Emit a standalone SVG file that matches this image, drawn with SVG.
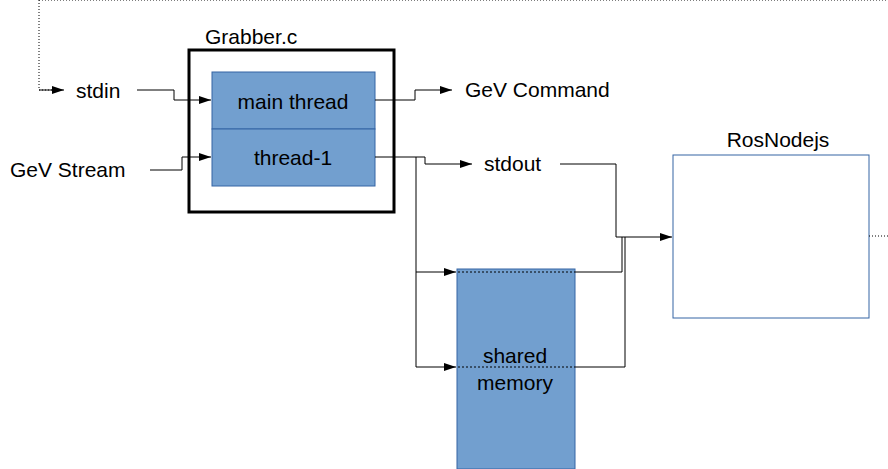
<svg xmlns="http://www.w3.org/2000/svg" width="888" height="469" viewBox="0 0 888 469">
<style>
text{font-family:"Liberation Sans",Arial,sans-serif;font-size:21px;fill:#000}
.c{fill:none;stroke:#000;stroke-width:1}
.blue{fill:#729fcf;stroke:#3465a4;stroke-width:1}
</style>
<defs><marker id="a" markerWidth="12" markerHeight="8" refX="12" refY="4" orient="auto" markerUnits="userSpaceOnUse"><path d="M0,0L12,4L0,8z" fill="#000"/></marker></defs>
<rect width="888" height="469" fill="#fff"/>
<g id="grabber">
<rect x="189" y="50" width="205" height="162" fill="#fff" stroke="#000" stroke-width="3"/>
<text x="205" y="44">Grabber.c</text>
</g>
<g id="main-thread"><rect class="blue" x="212" y="72" width="163" height="57"/><text x="293" y="109" text-anchor="middle">main thread</text></g>
<g id="thread-1"><rect class="blue" x="212" y="129" width="163" height="57"/><text x="293" y="165" text-anchor="middle">thread-1</text></g>
<g id="shm"><rect class="blue" x="457" y="269" width="118" height="200"/><text x="515" y="363" text-anchor="middle">shared</text><text x="515" y="390" text-anchor="middle">memory</text></g>
<g id="ros"><rect x="673" y="155" width="196" height="163" fill="#fff" stroke="#3465a4" stroke-width="1"/><text x="778" y="147" text-anchor="middle">RosNodejs</text></g>
<g id="labels">
<text x="76" y="98">stdin</text>
<text x="10" y="177">GeV Stream</text>
<text x="465" y="97">GeV Command</text>
<text x="484" y="171">stdout</text>
</g>
<g id="connectors">
<path class="c" d="M869,236H888M39,0V90H52" stroke-dasharray="1,2" stroke="#666"/>
<path class="c" d="M39,0H888" stroke-dasharray="1,2" stroke="#666"/>
<path class="c" d="M39,90H64" marker-end="url(#a)"/>
<path class="c" d="M137,90H174V100H211" marker-end="url(#a)"/>
<path class="c" d="M150,170H182V157H211" marker-end="url(#a)"/>
<path class="c" d="M375,100H415V90H452" marker-end="url(#a)"/>
<path class="c" d="M375,157H425V164H472" marker-end="url(#a)"/>
<path class="c" d="M416,157V272H456" marker-end="url(#a)"/>
<path class="c" d="M416,272V367H456" marker-end="url(#a)"/>
<path class="c" d="M458,272H575" stroke-dasharray="2,2"/>
<path class="c" d="M458,367H575" stroke-dasharray="2,2"/>
<path class="c" d="M575,272H622V237"/>
<path class="c" d="M575,367H625V237"/>
<path class="c" d="M560,164H616V237H672" marker-end="url(#a)"/>
</g>
</svg>
